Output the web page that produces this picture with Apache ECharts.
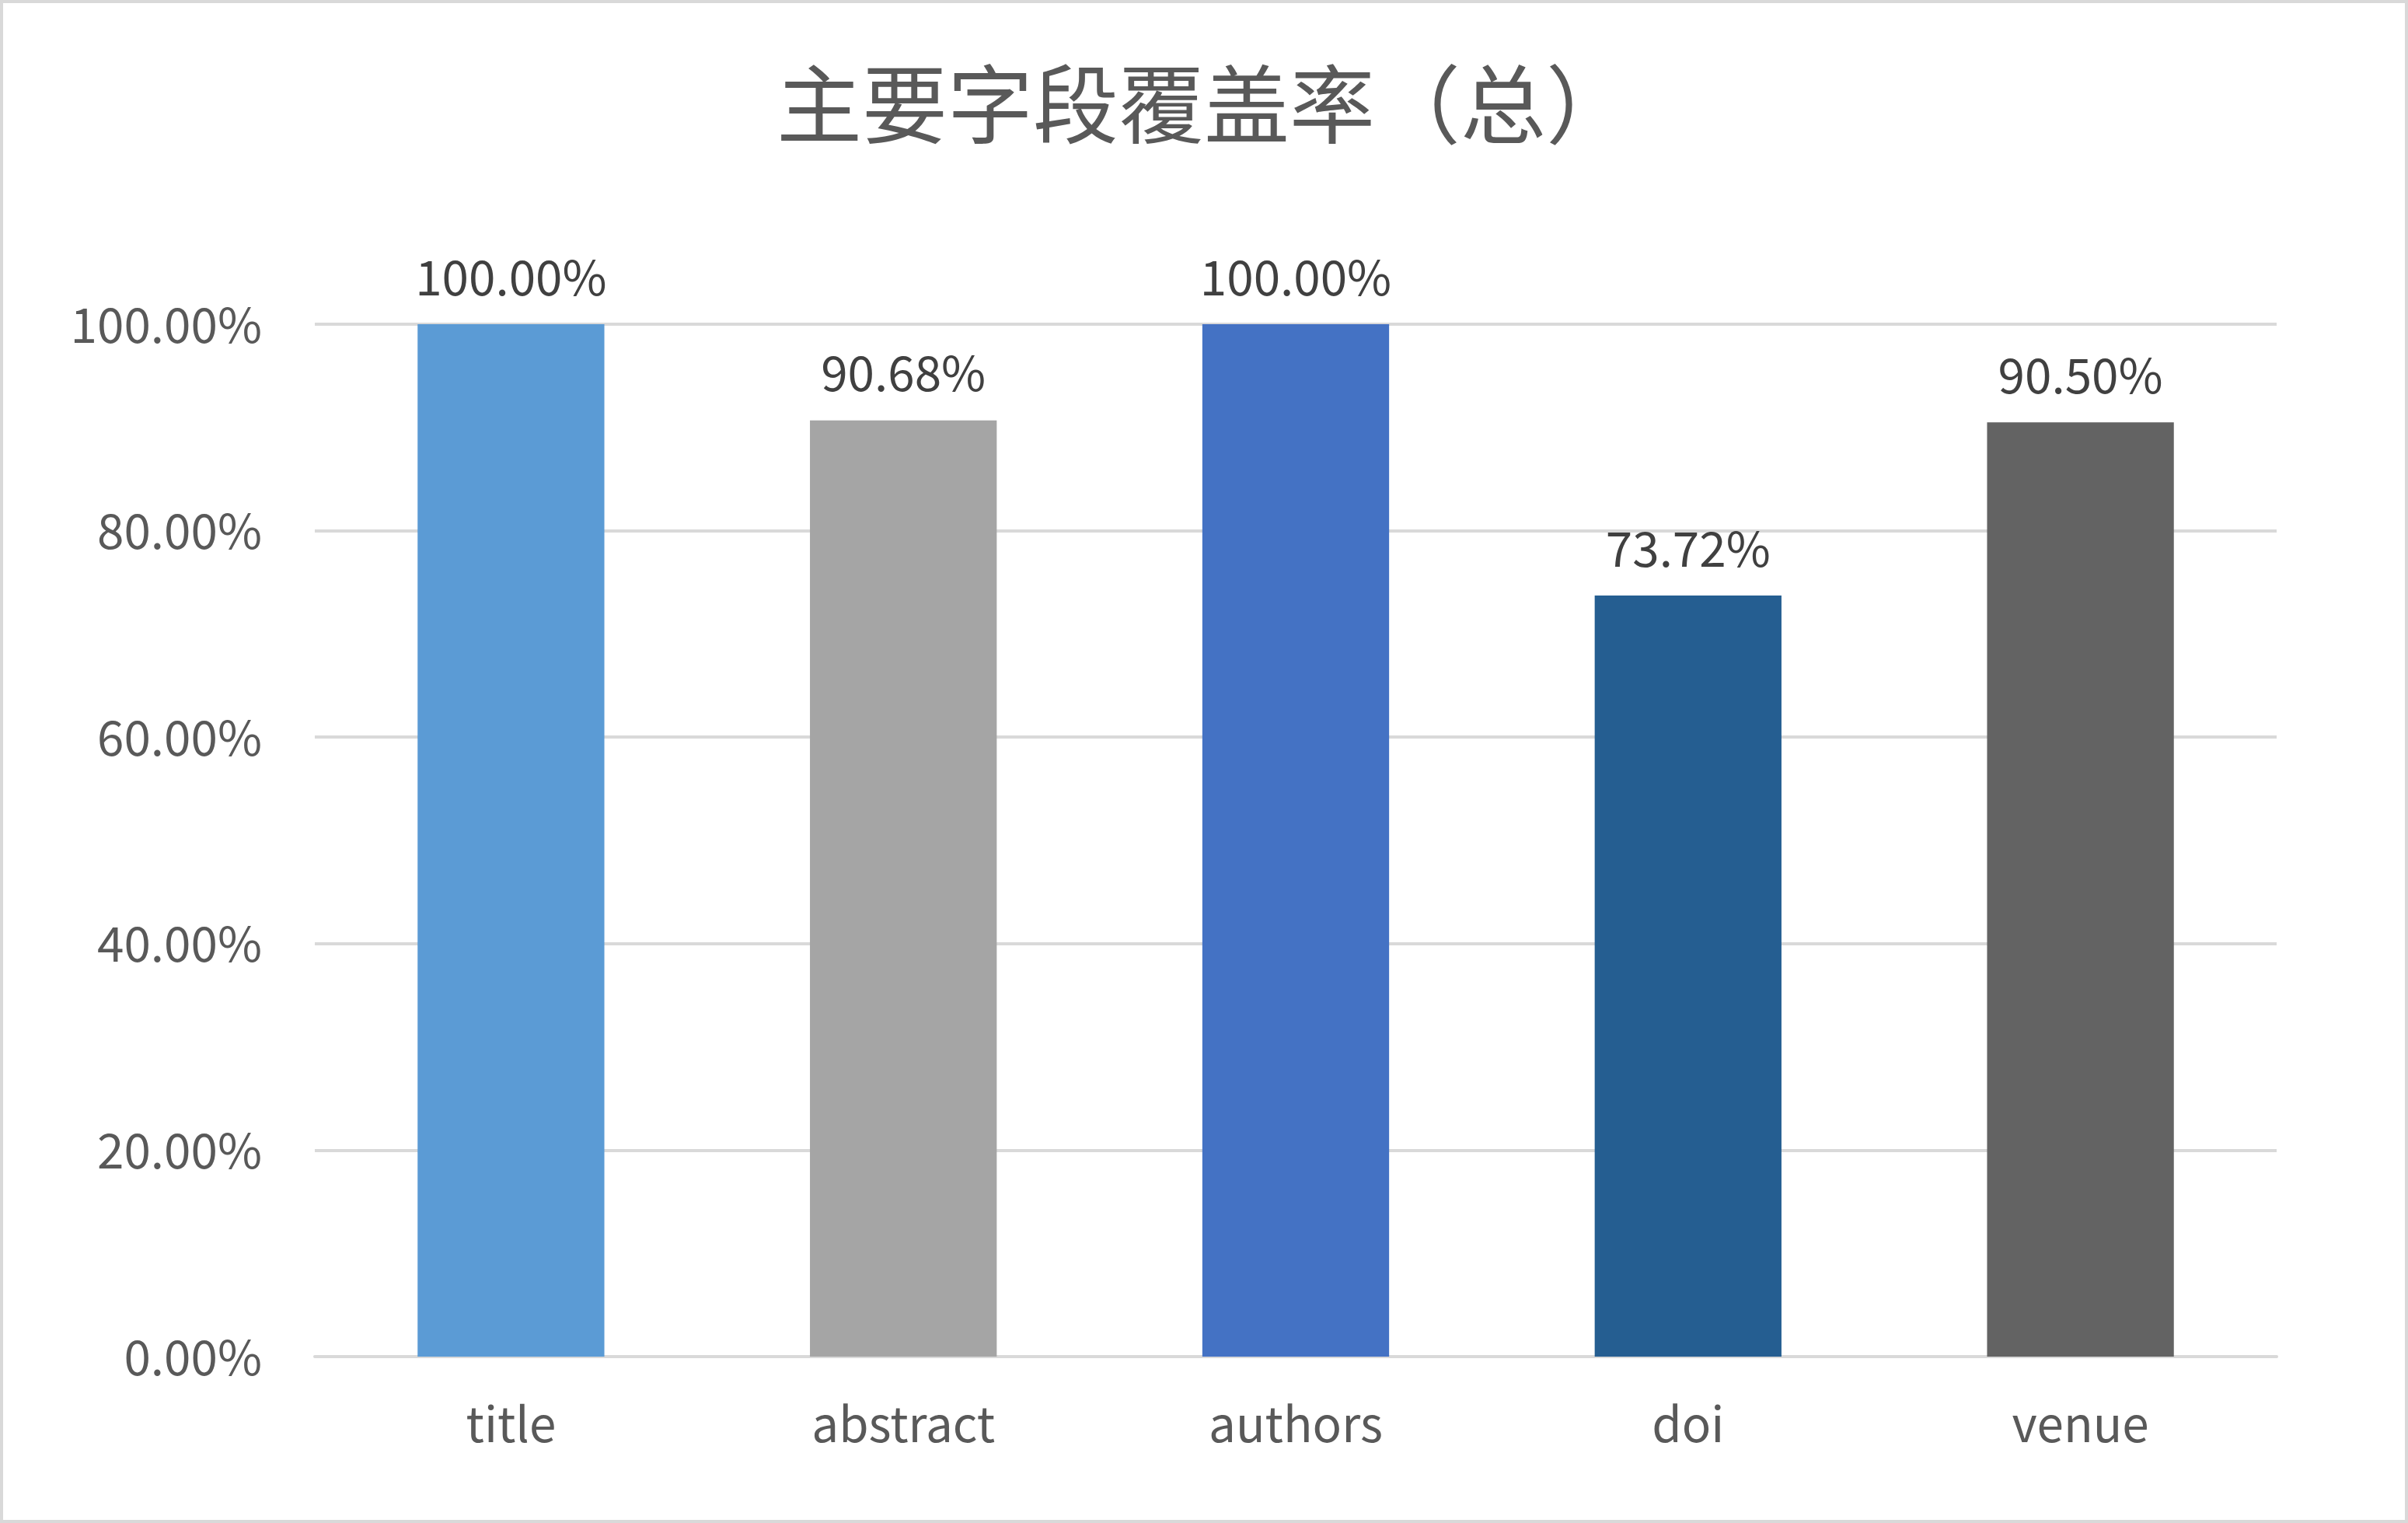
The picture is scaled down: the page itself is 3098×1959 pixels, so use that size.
<!DOCTYPE html>
<html><head><meta charset="utf-8">
<script src="https://cdn.jsdelivr.net/npm/echarts@6/dist/echarts.min.js"></script>
<style>html,body{margin:0;padding:0;background:#fff}#c{width:3098px;height:1959px;box-sizing:border-box;border:4px solid #d9d9d9}</style>
</head><body><div id="c"></div>
<script>
const categories = ['title','abstract','authors','doi','venue'];
const values = [100.00, 90.68, 100.00, 73.72, 90.50];
const colors = ['#5B9BD5','#A5A5A5','#4472C4','#255E91','#636363'];
const titleText = '主要字段覆盖率（总）';
const chart = echarts.init(document.getElementById('c'));
const font = '"Noto Sans CJK SC", "Noto Sans", sans-serif';
chart.setOption({
  animation:false,
  title:{text:titleText,left:'center',top:70,textStyle:{fontSize:110,fontWeight:'normal',color:'#595959',fontFamily:font}},
  grid:{left:401,right:165,top:413,bottom:210},
  xAxis:{type:'category',data:categories,axisTick:{show:false},
    axisLine:{lineStyle:{color:'#d9d9d9',width:4}},
    axisLabel:{fontSize:62,color:'#595959',margin:55,fontFamily:font}},
  yAxis:{type:'value',min:0,max:100,interval:20,
    axisLabel:{fontSize:62,color:'#595959',margin:68,fontFamily:font,formatter:v=>v.toFixed(2)+'%'},
    splitLine:{lineStyle:{color:'#d9d9d9',width:4}}},
  series:[{type:'bar',barWidth:'47.6%',
    data:values.map((v,i)=>({value:v,itemStyle:{color:colors[i]}})),
    label:{show:true,position:'top',distance:30,fontSize:62,color:'#404040',fontFamily:font,formatter:p=>p.value.toFixed(2)+'%'}}]
});
</script></body></html>
